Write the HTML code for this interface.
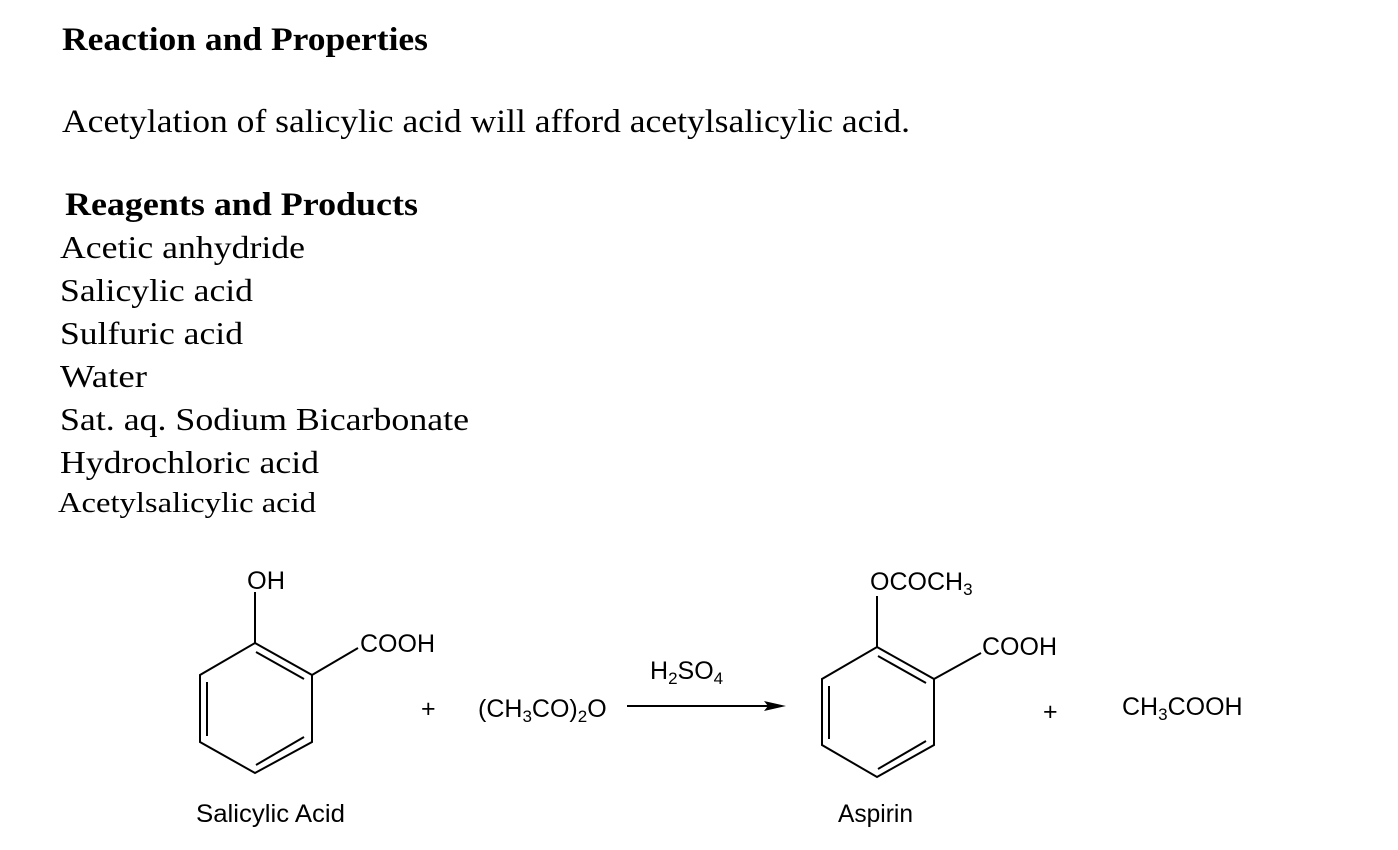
<!DOCTYPE html>
<html><head><meta charset="utf-8"><style>
html,body{margin:0;padding:0;background:#fff;}
svg{display:block;}
.s{font-family:"Liberation Serif",serif;fill:#000;}
.a{font-family:"Liberation Sans",sans-serif;fill:#000;font-size:25px;}
</style></head><body>
<svg width="1398" height="850" viewBox="0 0 1398 850" xmlns="http://www.w3.org/2000/svg">
<text class="s" x="62" y="50" font-size="33" font-weight="bold" textLength="366" lengthAdjust="spacingAndGlyphs">Reaction and Properties</text>
<text class="s" x="62" y="132" font-size="33" textLength="848" lengthAdjust="spacingAndGlyphs">Acetylation of salicylic acid will afford acetylsalicylic acid.</text>
<text class="s" x="65" y="215" font-size="33" font-weight="bold" textLength="353" lengthAdjust="spacingAndGlyphs">Reagents and Products</text>
<text class="s" x="60" y="258" font-size="32" textLength="245" lengthAdjust="spacingAndGlyphs">Acetic anhydride</text>
<text class="s" x="60" y="301" font-size="32" textLength="193" lengthAdjust="spacingAndGlyphs">Salicylic acid</text>
<text class="s" x="60" y="344" font-size="32" textLength="183" lengthAdjust="spacingAndGlyphs">Sulfuric acid</text>
<text class="s" x="60" y="387" font-size="32" textLength="87" lengthAdjust="spacingAndGlyphs">Water</text>
<text class="s" x="60" y="430" font-size="32" textLength="409" lengthAdjust="spacingAndGlyphs">Sat. aq. Sodium Bicarbonate</text>
<text class="s" x="60" y="473" font-size="32" textLength="259" lengthAdjust="spacingAndGlyphs">Hydrochloric acid</text>
<text class="s" x="58" y="512" font-size="29" textLength="258" lengthAdjust="spacingAndGlyphs">Acetylsalicylic acid</text>

<g stroke="#000" stroke-width="2" fill="none">
<polygon points="255,643 312,675 312,742 255,773 200,742 200,675"/>
<line x1="207" y1="682" x2="207" y2="736"/>
<line x1="256" y1="652" x2="304" y2="679"/>
<line x1="256" y1="765" x2="304" y2="737"/>
<line x1="255" y1="643" x2="255" y2="592"/>
<line x1="312" y1="675" x2="358" y2="648"/>
<polygon points="877,647 934,679 934,745 877,777 822,745 822,679"/>
<line x1="829" y1="686" x2="829" y2="739"/>
<line x1="878" y1="656" x2="926" y2="683"/>
<line x1="878" y1="769" x2="926" y2="741"/>
<line x1="877" y1="647" x2="877" y2="596"/>
<line x1="934" y1="679" x2="981" y2="653"/>
<line x1="627" y1="706" x2="770" y2="706"/>
</g>
<polygon points="786,706 764,701 768,706 764,711" fill="#000"/>

<text class="a" x="247" y="589" textLength="38" lengthAdjust="spacingAndGlyphs">OH</text>
<text class="a" x="360" y="652" textLength="75" lengthAdjust="spacingAndGlyphs">COOH</text>
<text class="a" x="421" y="717">+</text>
<text class="a" x="478" y="717">(CH<tspan font-size="17" dy="5">3</tspan><tspan dy="-5">CO)</tspan><tspan font-size="17" dy="5">2</tspan><tspan dy="-5">O</tspan></text>
<text class="a" x="650" y="679">H<tspan font-size="17" dy="5">2</tspan><tspan dy="-5">SO</tspan><tspan font-size="17" dy="5">4</tspan></text>
<text class="a" x="870" y="590">OCOCH<tspan font-size="17" dy="5">3</tspan></text>
<text class="a" x="982" y="655" textLength="75" lengthAdjust="spacingAndGlyphs">COOH</text>
<text class="a" x="1043" y="720">+</text>
<text class="a" x="1122" y="715">CH<tspan font-size="17" dy="5">3</tspan><tspan dy="-5">COOH</tspan></text>
<text class="a" x="196" y="822" textLength="149" lengthAdjust="spacingAndGlyphs">Salicylic  Acid</text>
<text class="a" x="838" y="822" textLength="75" lengthAdjust="spacingAndGlyphs">Aspirin</text>
</svg>
</body></html>
